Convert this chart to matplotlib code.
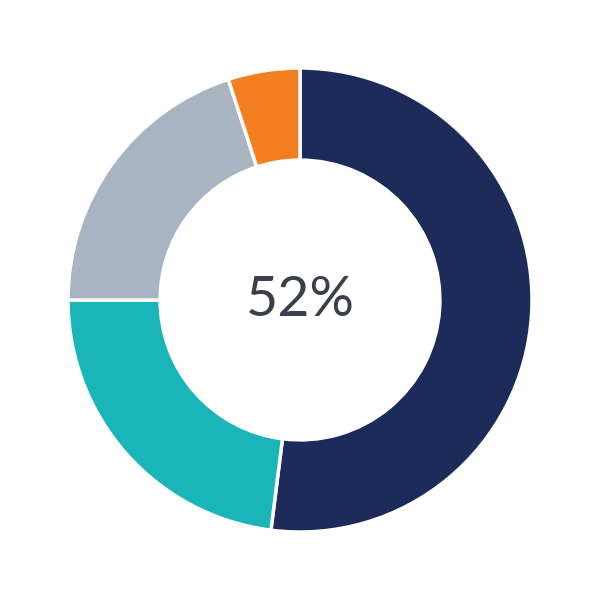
import matplotlib.pyplot as plt

# share of each segment, clockwise from 12 o'clock
labels = ['Navy', 'Teal', 'Gray', 'Orange']
values = [52, 23, 20, 5]
colors = ['#1c2b5a', '#1ab5b8', '#a9b4c2', '#f47f20']
center_text = '52%'

fig = plt.figure(figsize=(6, 6), dpi=100)
ax = fig.add_axes([0, 0, 1, 1])

ax.pie(values, colors=colors, startangle=90, counterclock=False,
       radius=1.0,
       wedgeprops=dict(width=0.397, edgecolor='white', linewidth=2.5))

ax.text(0, 0, center_text, ha='center', va='center', fontsize=40,
        color='#3a3f4a', family='Lato', fontweight='normal')

lim = 300 / 232
ax.set_xlim(-lim, lim)
ax.set_ylim(-lim, lim)
ax.set_aspect('equal')
ax.axis('off')

fig.savefig('out.png', dpi=100, facecolor='white')
